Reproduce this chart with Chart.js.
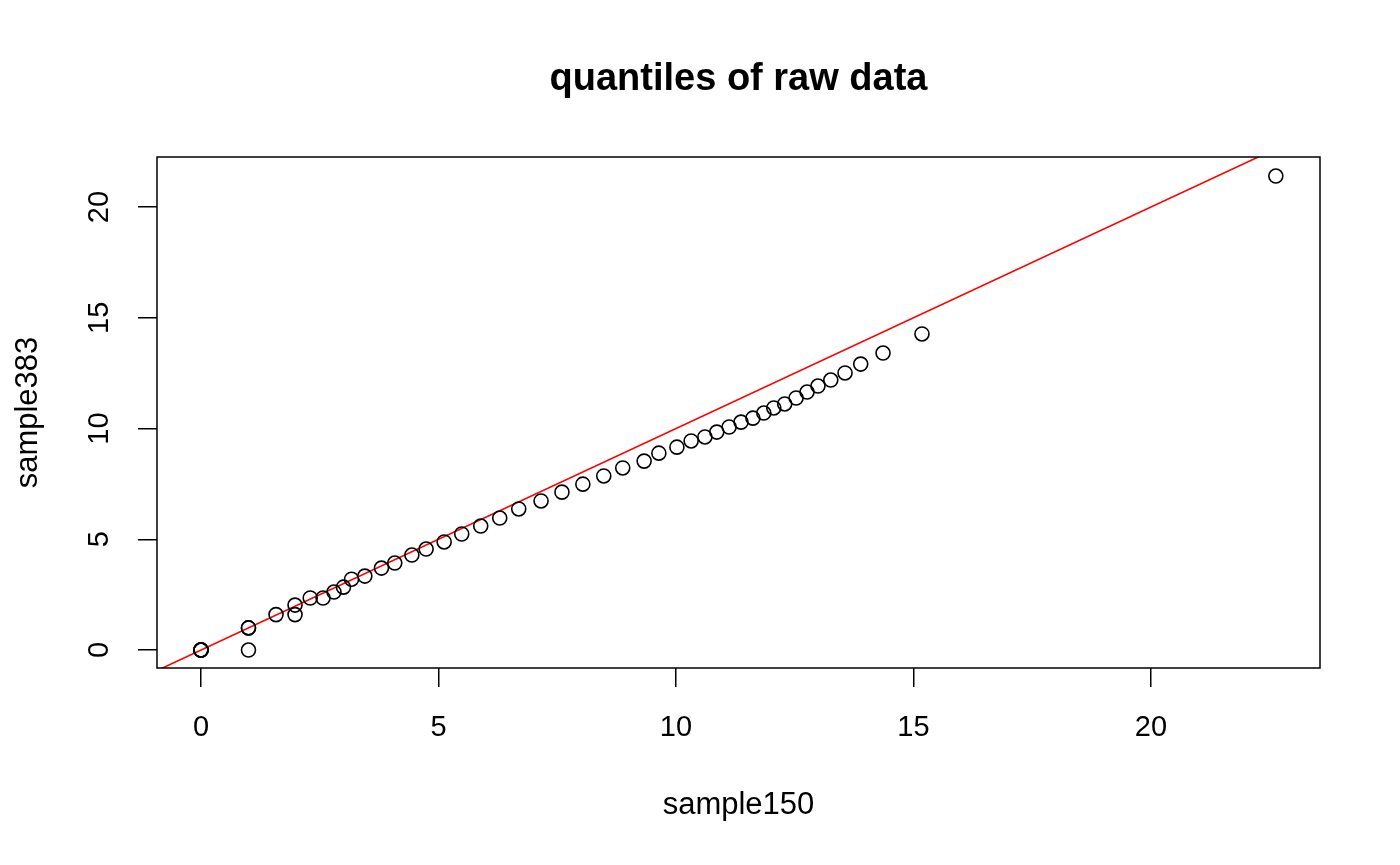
<!DOCTYPE html>
<html>
<head>
<meta charset="utf-8">
<title>quantiles of raw data</title>
<script src="https://cdn.jsdelivr.net/npm/chart.js@4/dist/chart.umd.min.js"></script>
<style>
  html, body { margin: 0; padding: 0; background: #fff; }
  #qq { display: block; }
</style>
</head>
<body>
<canvas id="qq" width="1400" height="865"></canvas>
<script>
// quantiles (sample150 on x, sample383 on y)
const sample150 = [0, 0, 0, 0, 0, 1, 1, 1, 1.58, 1.98, 1.98, 2.3, 2.57, 2.8, 3.0, 3.17, 3.45, 3.8, 4.08, 4.44,
    4.74, 5.12, 5.49, 5.89, 6.29, 6.69, 7.16, 7.6, 8.04, 8.48, 8.88, 9.33, 9.64, 10.02, 10.32, 10.61, 10.86,
    11.12, 11.37, 11.62, 11.85, 12.06, 12.29, 12.53, 12.76, 12.99, 13.26, 13.56, 13.89, 14.36, 15.18, 22.63];
const sample383 = [0, 0, 0, 0, 0, 0, 1, 1, 1.6, 1.6, 2.03, 2.35, 2.35, 2.62, 2.84, 3.2, 3.34, 3.7, 3.93, 4.29,
    4.56, 4.88, 5.24, 5.6, 5.96, 6.37, 6.73, 7.13, 7.49, 7.86, 8.22, 8.53, 8.89, 9.16, 9.44, 9.62, 9.84,
    10.07, 10.29, 10.47, 10.7, 10.93, 11.11, 11.38, 11.65, 11.92, 12.19, 12.51, 12.91, 13.41, 14.27, 21.4];

// reference line y = x, clipped by the plot area
const refLine = [-1, 24];

const xTicks = [0, 5, 10, 15, 20];
const yTicks = [0, 5, 10, 15, 20];

const FONT = '"Liberation Sans", Arial, Helvetica, sans-serif';

Chart.defaults.color = '#000';
Chart.defaults.font.family = FONT;

// R style box round the plot and rotated y tick labels
const rBox = {
    id: 'rBox',
    afterDraw(chart) {
        const ctx = chart.ctx;
        const a = chart.chartArea;
        ctx.save();
        ctx.strokeStyle = '#000';
        ctx.lineWidth = 1.5;
        ctx.strokeRect(a.left, a.top, a.right - a.left, a.bottom - a.top);

        const ys = chart.scales.y;
        ctx.fillStyle = '#000';
        ctx.font = '29px ' + FONT;
        ctx.textAlign = 'center';
        ctx.textBaseline = 'middle';
        yTicks.forEach(v => {
            const py = ys.getPixelForValue(v);
            ctx.save();
            ctx.translate(100, py);
            ctx.rotate(-Math.PI / 2);
            ctx.fillText(String(v), 0, 0);
            ctx.restore();
        });
        ctx.restore();
    }
};

const points = sample150.map((x, i) => ({ x: x, y: sample383[i] }));

new Chart(document.getElementById('qq'), {
    type: 'scatter',
    data: {
        datasets: [{
            label: 'quantiles',
            data: points,
            pointStyle: 'circle',
            pointRadius: 7,
            pointBorderWidth: 1.6,
            pointBorderColor: '#000',
            pointBackgroundColor: 'rgba(0,0,0,0)'
        }, {
            type: 'line',
            label: 'y = x',
            data: refLine.map(v => ({ x: v, y: v })),
            borderColor: '#ff0000',
            borderWidth: 1.6,
            pointRadius: 0,
            fill: false
        }]
    },
    options: {
        responsive: false,
        animation: false,
        layout: { padding: { left: 0, right: 80, top: 0, bottom: 0 } },
        scales: {
            x: {
                type: 'linear',
                min: -0.926,
                max: 23.56,
                afterFit: s => { s.height = 197; },
                afterBuildTicks: s => { s.ticks = xTicks.map(v => ({ value: v })); },
                border: { display: false },
                grid: {
                    drawOnChartArea: false,
                    drawTicks: true,
                    tickLength: 19,
                    color: '#000',
                    lineWidth: 1.5
                },
                ticks: {
                    font: { size: 29 },
                    color: '#000',
                    padding: 23.6,
                    maxRotation: 0
                },
                title: {
                    display: true,
                    text: 'sample150',
                    font: { size: 31 },
                    color: '#000',
                    padding: { top: 0, bottom: 41.4 }
                }
            },
            y: {
                type: 'linear',
                min: -0.81,
                max: 22.26,
                afterFit: s => { s.width = 157; },
                afterBuildTicks: s => { s.ticks = yTicks.map(v => ({ value: v })); },
                border: { display: false },
                grid: {
                    drawOnChartArea: false,
                    drawTicks: true,
                    tickLength: 19,
                    color: '#000',
                    lineWidth: 1.5
                },
                ticks: { display: false },
                title: {
                    display: true,
                    text: 'sample383',
                    font: { size: 31 },
                    color: '#000',
                    padding: { top: 9.4, bottom: 0 }
                }
            }
        },
        plugins: {
            legend: { display: false },
            tooltip: { enabled: false },
            title: {
                display: true,
                fullSize: false,
                text: 'quantiles of raw data',
                color: '#000',
                font: { size: 38, weight: 'bold' },
                padding: { top: 57.2, bottom: 54.2 }
            }
        }
    },
    plugins: [rBox]
});
</script>
</body>
</html>
